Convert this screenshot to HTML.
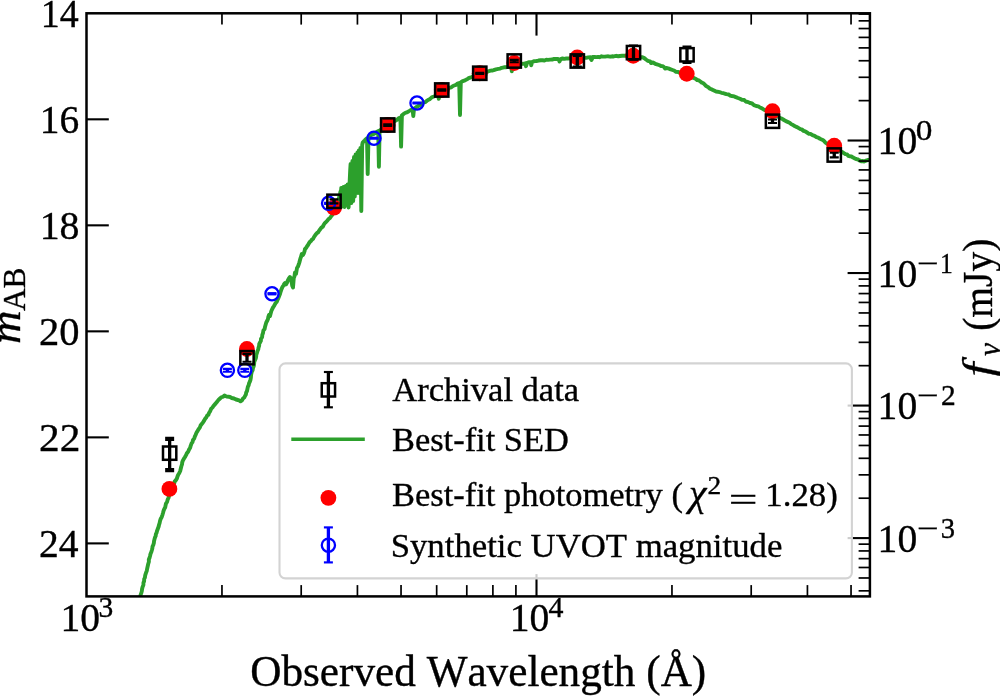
<!DOCTYPE html>
<html lang="en"><head><meta charset="utf-8"><title>SED fit</title>
<style>
html,body{margin:0;padding:0;background:#fff;}
body{width:1000px;height:696px;overflow:hidden;}
svg{display:block;}
text{font-family:"Liberation Serif", "DejaVu Serif", serif;fill:#000;stroke:#000;stroke-width:0.35px;font-kerning:none;white-space:pre;}
.it{font-style:italic;}
</style></head><body>
<svg width="1000" height="696" viewBox="0 0 1000 696">
<rect width="1000" height="696" fill="#fff"/>

<clipPath id="ax"><rect x="86.5" y="13.3" width="783.4" height="583.1"/></clipPath>
<g clip-path="url(#ax)">
<polyline points="140.30,597.00 140.69,594.69 141.44,592.62 141.88,590.88 142.06,589.01 142.56,586.94 143.40,585.00 143.46,582.69 144.07,581.41 144.22,578.93 144.93,577.64 145.20,575.30 145.89,573.11 146.80,570.69 147.10,569.00 148.20,564.00 148.88,561.78 148.82,559.59 149.50,557.90 149.97,556.21 150.48,554.02 151.40,551.86 151.90,550.00 152.40,547.94 152.53,546.40 153.30,545.00 153.85,543.03 154.02,541.28 154.54,539.12 155.00,537.40 155.71,535.98 155.82,534.27 156.52,532.94 157.00,531.00 157.83,528.74 158.67,526.52 159.00,524.80 159.59,523.06 160.04,520.85 160.61,519.04 161.76,516.98 162.48,514.78 162.99,513.06 163.50,511.00 164.26,509.04 165.14,507.57 165.58,505.40 165.99,503.51 167.10,501.86 167.70,499.50 168.60,497.56 168.97,496.15 169.39,494.22 170.40,492.50 170.95,490.26 171.65,488.94 172.48,486.57 173.44,485.23 174.30,483.00 174.78,481.38 175.88,480.20 176.85,478.60 177.40,476.70 178.18,474.72 179.17,473.25 180.20,471.00 181.30,466.50 182.07,464.19 182.20,462.50 182.91,460.43 183.88,458.82 185.00,457.00 186.16,454.92 186.85,453.19 188.30,451.40 188.99,449.56 190.18,447.77 190.66,445.81 191.56,443.40 192.50,442.15 193.00,440.00 194.23,438.50 194.87,436.37 195.64,434.81 196.58,432.52 197.65,430.84 198.72,428.97 199.80,427.60 200.55,425.55 201.72,424.01 202.77,422.74 204.28,420.35 205.13,418.80 206.40,417.20 207.17,415.46 208.38,414.84 209.00,413.00 210.14,411.15 211.04,408.98 212.50,407.50 213.56,405.79 215.06,404.20 216.00,403.00 217.00,401.91 218.69,399.68 220.00,398.50 221.53,397.07 223.02,396.93 224.50,395.50 226.00,396.23 227.00,396.60 228.33,396.68 230.00,397.00 231.77,397.99 234.00,398.50 236.02,399.50 238.00,400.00 239.13,400.40 240.50,401.30 241.97,400.34 243.00,398.50 244.25,397.53 245.00,396.00 245.89,394.55 246.14,392.68 247.00,391.00 247.48,388.58 247.84,386.80 248.75,385.00 249.03,383.37 249.97,381.35 250.41,380.04 250.87,377.68 251.00,376.00 251.30,373.75 251.79,371.73 252.59,370.36 253.00,368.00 253.74,365.98 254.11,364.27 254.21,362.14 255.00,360.00 255.79,358.45 256.18,356.38 256.27,354.86 256.88,353.07 257.50,351.00 258.33,349.21 258.43,348.00 259.16,345.60 259.24,343.89 260.00,342.50 260.88,340.88 260.95,338.99 262.14,336.94 262.30,334.94 263.00,333.00 263.39,330.46 264.63,328.93 264.97,327.09 265.55,324.93 266.25,322.50 267.35,320.49 268.00,319.00 268.33,316.81 269.00,315.00 270.00,316.00 271.25,311.25 271.99,309.58 272.91,307.68 274.00,306.00 274.62,304.87 275.65,302.96 276.68,301.86 277.50,300.00 278.28,298.38 279.17,296.03 280.00,294.00 280.68,291.57 281.29,289.71 282.00,288.00 282.53,286.77 283.75,285.00 284.15,283.98 285.00,283.00 286.00,284.50 287.07,282.63 287.71,280.68 288.75,278.75 290.00,277.00 290.54,278.26 291.00,279.00 292.00,284.00 292.22,285.80 293.00,287.50 293.60,280.00 293.77,277.92 294.49,276.26 294.69,274.61 295.00,272.50 296.00,274.00 297.00,268.00 298.04,266.45 298.50,265.00 299.08,263.34 299.51,261.84 300.00,260.00 300.53,258.06 301.12,256.46 301.70,254.10 303.00,255.00 303.81,253.34 304.64,250.78 305.00,249.00 306.04,248.07 307.24,246.01 308.00,245.00 308.74,243.61 309.70,242.10 311.00,241.00 311.70,239.82 313.20,238.69 314.00,237.00 314.76,235.86 316.11,234.01 317.00,233.00 318.27,232.25 318.80,231.07 320.00,229.50 321.16,227.92 322.81,226.67 323.70,224.80 324.56,223.47 325.91,222.12 327.00,221.00 328.29,219.34 330.00,218.00 331.16,216.22 332.04,215.25 332.66,213.80 334.00,212.60 334.69,210.89 334.90,209.60 336.00,207.86 336.12,205.51 337.00,204.00 337.30,202.25 338.09,199.67 338.82,198.37 339.50,196.00 340.22,193.78 340.25,192.38 341.05,190.18 341.50,188.00 341.20,188.00 342.30,206.50 343.50,187.00 344.60,207.00 345.80,186.00 346.80,203.00 347.60,184.50 348.60,207.50 349.60,183.00 350.20,170.00 350.60,164.00 351.40,203.00 352.40,161.00 353.20,201.00 354.00,157.00 354.80,196.50 355.60,154.50 356.60,190.00 357.40,152.50 358.00,193.00 358.80,150.50 359.80,185.00 360.40,148.00 361.30,211.00 362.20,145.00 362.66,142.75 363.70,141.30 364.73,140.33 365.50,139.50 367.00,138.30 367.70,174.00 368.50,136.80 369.95,136.04 372.00,134.50 373.43,134.10 374.38,133.49 376.00,132.50 376.80,132.08 378.20,131.00 378.90,166.70 379.60,130.50 381.03,129.52 382.57,129.22 384.00,128.00 385.17,126.83 386.69,126.10 388.00,125.50 389.06,124.36 390.35,123.56 392.00,123.00 393.54,121.76 395.51,120.68 397.00,119.80 398.70,118.36 400.40,117.50 401.10,146.60 401.90,115.50 403.39,114.03 404.93,113.00 406.70,112.40 408.51,111.50 410.00,110.50 411.08,109.98 412.60,109.50 413.30,116.00 414.00,108.80 416.05,107.30 417.50,106.50 419.22,105.44 420.50,104.80 422.00,103.50 423.43,102.63 425.13,102.18 426.39,101.17 428.00,100.00 429.64,99.25 430.93,98.11 432.19,97.04 434.00,96.50 435.03,96.05 436.50,94.86 438.00,94.50 438.80,98.80 439.60,93.50 440.38,93.31 441.75,92.50 443.76,91.65 445.10,90.27 447.00,89.50 448.36,88.59 449.76,87.70 451.33,87.29 453.00,86.00 454.88,85.29 455.92,84.92 457.52,83.62 459.20,83.00 460.00,115.00 460.80,82.30 462.18,81.36 464.25,80.64 466.00,79.80 467.29,79.10 468.65,78.19 470.21,77.61 472.00,77.00 473.68,75.76 475.86,75.13 478.06,74.59 480.00,73.75 482.18,73.33 484.15,72.97 485.92,71.91 488.00,71.50 490.34,70.63 492.16,70.53 493.68,70.15 496.00,69.30 498.27,68.91 500.16,68.58 501.75,67.82 504.00,67.30 505.75,67.23 507.71,66.84 509.31,66.53 511.00,65.80 511.80,71.30 512.60,65.40 514.25,65.00 516.29,64.84 517.89,63.91 520.00,64.00 521.51,63.64 523.26,63.84 525.30,63.30 525.69,64.86 526.00,66.20 526.49,64.76 526.80,63.00 528.64,62.20 530.50,62.30 531.06,64.07 531.20,65.40 531.60,63.73 532.00,62.00 533.78,61.28 535.50,61.11 537.00,61.00 538.54,60.52 540.83,60.20 542.50,60.20 544.54,60.48 546.25,59.79 548.11,59.92 550.00,59.60 552.19,59.56 554.10,58.92 555.75,58.93 558.00,59.00 558.92,60.07 559.50,61.50 560.30,59.71 561.00,58.80 562.44,58.52 564.62,58.82 566.37,58.39 568.00,58.50 569.86,58.37 571.68,57.96 573.83,57.93 575.73,58.49 577.25,58.00 578.60,57.86 580.85,58.22 582.28,57.49 584.00,57.60 585.96,57.87 588.13,57.41 590.50,57.20 590.75,58.62 591.50,60.00 592.32,58.17 592.50,57.00 594.56,56.97 596.44,57.12 598.00,56.90 599.56,57.18 601.49,56.32 602.90,56.67 605.00,56.60 606.72,56.35 608.25,56.31 610.12,56.68 612.00,56.30 613.65,56.45 616.24,55.81 618.30,56.27 620.00,56.00 622.28,55.71 623.91,55.70 626.00,55.70 628.16,55.73 629.53,55.54 631.28,55.14 633.25,55.50 634.85,56.05 637.00,56.00 638.35,57.04 640.00,57.30 641.07,57.09 642.50,57.30 644.26,58.12 646.00,59.50 647.91,60.81 650.00,61.30 651.00,63.00 653.00,62.50 654.77,63.45 656.09,64.21 657.50,64.50 659.56,65.29 661.00,66.00 662.65,66.09 664.00,67.00 665.00,68.50 667.00,68.00 669.00,68.62 670.84,69.46 672.50,70.00 674.10,70.49 676.00,71.80 678.30,72.06 680.00,73.00 681.67,73.48 683.23,74.47 685.40,74.66 686.75,75.50 688.61,75.99 690.29,76.74 692.00,77.50 693.77,77.95 696.00,79.00 697.13,80.12 698.66,80.25 700.00,81.25 701.78,82.57 703.00,83.00 704.46,84.18 706.00,86.00 707.12,86.55 708.56,87.47 710.00,88.75 711.82,89.41 714.00,90.50 716.05,91.50 718.00,91.80 719.92,92.21 721.44,92.80 723.16,93.12 725.00,93.75 726.44,94.11 728.83,94.54 730.25,95.55 732.00,96.00 734.25,96.43 735.84,97.15 737.93,98.01 740.00,98.75 742.32,99.91 744.26,100.02 745.67,101.49 748.28,102.13 750.00,103.00 752.06,103.45 753.92,105.18 756.23,106.02 758.33,106.37 760.00,107.50 761.51,108.08 763.59,109.45 765.67,110.38 767.25,111.31 768.90,112.01 770.39,113.11 772.50,113.75 774.23,115.17 776.44,115.66 777.99,116.65 780.26,118.10 781.81,118.57 784.00,120.00 785.85,121.12 787.59,121.83 789.57,122.68 791.19,124.13 793.49,125.34 795.00,126.25 796.98,127.12 798.24,127.81 800.47,129.11 801.72,129.39 803.57,130.87 805.23,131.39 807.00,132.50 808.97,133.78 810.52,133.87 812.46,135.11 814.56,135.80 816.49,137.18 818.15,137.59 820.00,138.75 822.11,139.67 823.79,140.70 825.15,142.27 826.98,143.53 828.90,143.94 830.49,145.24 832.58,146.81 834.25,147.50 835.55,148.30 837.15,149.73 838.65,149.80 840.14,151.00 842.00,152.00 843.88,153.20 845.36,154.15 847.10,154.40 848.18,155.79 850.00,156.25 851.67,156.52 853.12,157.52 854.41,158.16 856.00,159.00 857.52,159.30 859.35,160.37 861.25,161.25 862.94,161.04 864.00,161.50 866.00,160.60 867.70,160.04 868.75,160.00 870.50,160.60" fill="none" stroke="#2ca02c" stroke-width="3.9" stroke-linejoin="round" stroke-linecap="butt"/>
<circle cx="169.4" cy="488.9" r="7.9" fill="#ff0000"/>
<circle cx="246.9" cy="349" r="7.9" fill="#ff0000"/>
<circle cx="334" cy="207.7" r="7.9" fill="#ff0000"/>
<circle cx="387.7" cy="125" r="7.9" fill="#ff0000"/>
<circle cx="441.75" cy="90" r="7.9" fill="#ff0000"/>
<circle cx="479.75" cy="73.25" r="7.9" fill="#ff0000"/>
<circle cx="514.25" cy="63" r="7.9" fill="#ff0000"/>
<circle cx="577.25" cy="57.5" r="7.9" fill="#ff0000"/>
<circle cx="633.25" cy="55.75" r="7.9" fill="#ff0000"/>
<circle cx="686.75" cy="73.75" r="7.9" fill="#ff0000"/>
<circle cx="772.5" cy="111.25" r="7.9" fill="#ff0000"/>
<circle cx="834.25" cy="145.75" r="7.9" fill="#ff0000"/>
<g stroke="#0000ff" fill="none"><line x1="227.4" y1="368.85" x2="227.4" y2="371.75" stroke-width="3.3"/><line x1="222.9" y1="368.85" x2="231.9" y2="368.85" stroke-width="2.15"/><line x1="222.9" y1="371.75" x2="231.9" y2="371.75" stroke-width="2.15"/><circle cx="227.4" cy="370.3" r="6.6" stroke-width="2.3"/></g>
<g stroke="#0000ff" fill="none"><line x1="244.8" y1="368.85" x2="244.8" y2="371.75" stroke-width="3.3"/><line x1="240.3" y1="368.85" x2="249.3" y2="368.85" stroke-width="2.15"/><line x1="240.3" y1="371.75" x2="249.3" y2="371.75" stroke-width="2.15"/><circle cx="244.8" cy="370.3" r="6.6" stroke-width="2.3"/></g>
<g stroke="#0000ff" fill="none"><line x1="272" y1="293.15" x2="272" y2="294.35" stroke-width="3.3"/><line x1="267.5" y1="293.15" x2="276.5" y2="293.15" stroke-width="2.15"/><line x1="267.5" y1="294.35" x2="276.5" y2="294.35" stroke-width="2.15"/><circle cx="272" cy="293.75" r="6.6" stroke-width="2.3"/></g>
<g stroke="#0000ff" fill="none"><line x1="328.6" y1="202.70000000000002" x2="328.6" y2="203.9" stroke-width="3.3"/><line x1="324.1" y1="202.70000000000002" x2="333.1" y2="202.70000000000002" stroke-width="2.15"/><line x1="324.1" y1="203.9" x2="333.1" y2="203.9" stroke-width="2.15"/><circle cx="328.6" cy="203.3" r="6.6" stroke-width="2.3"/></g>
<g stroke="#0000ff" fill="none"><line x1="374" y1="137.7" x2="374" y2="138.7" stroke-width="3.3"/><line x1="369.5" y1="137.7" x2="378.5" y2="137.7" stroke-width="2.15"/><line x1="369.5" y1="138.7" x2="378.5" y2="138.7" stroke-width="2.15"/><circle cx="374" cy="138.2" r="6.6" stroke-width="2.3"/></g>
<g stroke="#0000ff" fill="none"><line x1="417" y1="102.6" x2="417" y2="103.4" stroke-width="3.3"/><line x1="412.5" y1="102.6" x2="421.5" y2="102.6" stroke-width="2.15"/><line x1="412.5" y1="103.4" x2="421.5" y2="103.4" stroke-width="2.15"/><circle cx="417" cy="103" r="6.6" stroke-width="2.3"/></g>
<g stroke="#000" fill="none"><line x1="169.65" y1="438.85" x2="169.65" y2="470.1" stroke-width="3.3"/><line x1="165.15" y1="438.85" x2="174.15" y2="438.85" stroke-width="4.2"/><line x1="165.15" y1="470.1" x2="174.15" y2="470.1" stroke-width="4.2"/><rect x="163.0" y="446.5" width="13.3" height="13.3" stroke-width="2.5"/></g>
<g stroke="#000" fill="none"><line x1="247" y1="353.9" x2="247" y2="361.7" stroke-width="3.3"/><line x1="242.5" y1="353.9" x2="251.5" y2="353.9" stroke-width="2.15"/><line x1="242.5" y1="361.7" x2="251.5" y2="361.7" stroke-width="2.15"/><rect x="240.35" y="351.05" width="13.3" height="13.3" stroke-width="2.5"/></g>
<g stroke="#000" fill="none"><line x1="334" y1="199.3" x2="334" y2="203.3" stroke-width="3.3"/><line x1="329.5" y1="199.3" x2="338.5" y2="199.3" stroke-width="2.15"/><line x1="329.5" y1="203.3" x2="338.5" y2="203.3" stroke-width="2.15"/><rect x="327.35" y="194.65" width="13.3" height="13.3" stroke-width="2.5"/></g>
<g stroke="#000" fill="none"><line x1="387.7" y1="124.2" x2="387.7" y2="125.8" stroke-width="3.3"/><line x1="383.2" y1="124.2" x2="392.2" y2="124.2" stroke-width="2.15"/><line x1="383.2" y1="125.8" x2="392.2" y2="125.8" stroke-width="2.15"/><rect x="381.05" y="118.35" width="13.3" height="13.3" stroke-width="2.5"/></g>
<g stroke="#000" fill="none"><line x1="441.75" y1="89.4" x2="441.75" y2="90.6" stroke-width="3.3"/><line x1="437.25" y1="89.4" x2="446.25" y2="89.4" stroke-width="2.15"/><line x1="437.25" y1="90.6" x2="446.25" y2="90.6" stroke-width="2.15"/><rect x="435.1" y="83.35" width="13.3" height="13.3" stroke-width="2.5"/></g>
<g stroke="#000" fill="none"><line x1="479.75" y1="72.7" x2="479.75" y2="73.8" stroke-width="3.3"/><line x1="475.25" y1="72.7" x2="484.25" y2="72.7" stroke-width="2.15"/><line x1="475.25" y1="73.8" x2="484.25" y2="73.8" stroke-width="2.15"/><rect x="473.1" y="66.6" width="13.3" height="13.3" stroke-width="2.5"/></g>
<g stroke="#000" fill="none"><line x1="514.25" y1="59.8" x2="514.25" y2="62.2" stroke-width="3.3"/><line x1="509.75" y1="59.8" x2="518.75" y2="59.8" stroke-width="2.15"/><line x1="509.75" y1="62.2" x2="518.75" y2="62.2" stroke-width="2.15"/><rect x="507.6" y="54.35" width="13.3" height="13.3" stroke-width="2.5"/></g>
<g stroke="#000" fill="none"><line x1="577.3" y1="55.9" x2="577.3" y2="66.6" stroke-width="3.3"/><line x1="572.8" y1="55.9" x2="581.8" y2="55.9" stroke-width="2.15"/><line x1="572.8" y1="66.6" x2="581.8" y2="66.6" stroke-width="2.15"/><rect x="570.65" y="54.35" width="13.3" height="13.3" stroke-width="2.5"/></g>
<g stroke="#000" fill="none"><line x1="633.5" y1="45.6" x2="633.5" y2="59.7" stroke-width="3.3"/><line x1="629.0" y1="45.6" x2="638.0" y2="45.6" stroke-width="2.15"/><line x1="629.0" y1="59.7" x2="638.0" y2="59.7" stroke-width="2.15"/><rect x="626.85" y="45.95" width="13.3" height="13.3" stroke-width="2.5"/></g>
<g stroke="#000" fill="none"><line x1="687" y1="46.6" x2="687" y2="63.0" stroke-width="3.3"/><line x1="682.5" y1="46.6" x2="691.5" y2="46.6" stroke-width="2.15"/><line x1="682.5" y1="63.0" x2="691.5" y2="63.0" stroke-width="2.15"/><rect x="680.35" y="48.15" width="13.3" height="13.3" stroke-width="2.5"/></g>
<g stroke="#000" fill="none"><line x1="772.5" y1="119.5" x2="772.5" y2="123" stroke-width="3.3"/><line x1="768.0" y1="119.5" x2="777.0" y2="119.5" stroke-width="2.15"/><line x1="768.0" y1="123" x2="777.0" y2="123" stroke-width="2.15"/><rect x="765.85" y="114.6" width="13.3" height="13.3" stroke-width="2.5"/></g>
<g stroke="#000" fill="none"><line x1="834.25" y1="152.7" x2="834.25" y2="157.3" stroke-width="3.3"/><line x1="829.75" y1="152.7" x2="838.75" y2="152.7" stroke-width="2.15"/><line x1="829.75" y1="157.3" x2="838.75" y2="157.3" stroke-width="2.15"/><rect x="827.6" y="148.35" width="13.3" height="13.3" stroke-width="2.5"/></g>
</g>
<g stroke="#000" fill="none"><line x1="86.5" y1="119.32" x2="108.8" y2="119.32" stroke-width="2.1"/><line x1="86.5" y1="225.34" x2="108.8" y2="225.34" stroke-width="2.1"/><line x1="86.5" y1="331.35" x2="108.8" y2="331.35" stroke-width="2.1"/><line x1="86.5" y1="437.37" x2="108.8" y2="437.37" stroke-width="2.1"/><line x1="86.5" y1="543.39" x2="108.8" y2="543.39" stroke-width="2.1"/><line x1="221.96" y1="596.4" x2="221.96" y2="585.1" stroke-width="1.7"/><line x1="221.96" y1="13.3" x2="221.96" y2="24.6" stroke-width="1.7"/><line x1="301.20" y1="596.4" x2="301.20" y2="585.1" stroke-width="1.7"/><line x1="301.20" y1="13.3" x2="301.20" y2="24.6" stroke-width="1.7"/><line x1="357.43" y1="596.4" x2="357.43" y2="585.1" stroke-width="1.7"/><line x1="357.43" y1="13.3" x2="357.43" y2="24.6" stroke-width="1.7"/><line x1="401.04" y1="596.4" x2="401.04" y2="585.1" stroke-width="1.7"/><line x1="401.04" y1="13.3" x2="401.04" y2="24.6" stroke-width="1.7"/><line x1="436.67" y1="596.4" x2="436.67" y2="585.1" stroke-width="1.7"/><line x1="436.67" y1="13.3" x2="436.67" y2="24.6" stroke-width="1.7"/><line x1="466.79" y1="596.4" x2="466.79" y2="585.1" stroke-width="1.7"/><line x1="466.79" y1="13.3" x2="466.79" y2="24.6" stroke-width="1.7"/><line x1="492.89" y1="596.4" x2="492.89" y2="585.1" stroke-width="1.7"/><line x1="492.89" y1="13.3" x2="492.89" y2="24.6" stroke-width="1.7"/><line x1="515.91" y1="596.4" x2="515.91" y2="585.1" stroke-width="1.7"/><line x1="515.91" y1="13.3" x2="515.91" y2="24.6" stroke-width="1.7"/><line x1="536.50" y1="596.4" x2="536.50" y2="574.1" stroke-width="2.1"/><line x1="536.50" y1="13.3" x2="536.50" y2="35.6" stroke-width="2.1"/><line x1="671.96" y1="596.4" x2="671.96" y2="585.1" stroke-width="1.7"/><line x1="671.96" y1="13.3" x2="671.96" y2="24.6" stroke-width="1.7"/><line x1="751.20" y1="596.4" x2="751.20" y2="585.1" stroke-width="1.7"/><line x1="751.20" y1="13.3" x2="751.20" y2="24.6" stroke-width="1.7"/><line x1="807.43" y1="596.4" x2="807.43" y2="585.1" stroke-width="1.7"/><line x1="807.43" y1="13.3" x2="807.43" y2="24.6" stroke-width="1.7"/><line x1="851.04" y1="596.4" x2="851.04" y2="585.1" stroke-width="1.7"/><line x1="851.04" y1="13.3" x2="851.04" y2="24.6" stroke-width="1.7"/><line x1="869.9" y1="590.83" x2="858.6" y2="590.83" stroke-width="1.7"/><line x1="869.9" y1="577.98" x2="858.6" y2="577.98" stroke-width="1.7"/><line x1="869.9" y1="567.49" x2="858.6" y2="567.49" stroke-width="1.7"/><line x1="869.9" y1="558.62" x2="858.6" y2="558.62" stroke-width="1.7"/><line x1="869.9" y1="550.93" x2="858.6" y2="550.93" stroke-width="1.7"/><line x1="869.9" y1="544.15" x2="858.6" y2="544.15" stroke-width="1.7"/><line x1="869.9" y1="538.09" x2="847.6" y2="538.09" stroke-width="2.1"/><line x1="869.9" y1="498.20" x2="858.6" y2="498.20" stroke-width="1.7"/><line x1="869.9" y1="474.86" x2="858.6" y2="474.86" stroke-width="1.7"/><line x1="869.9" y1="458.30" x2="858.6" y2="458.30" stroke-width="1.7"/><line x1="869.9" y1="445.46" x2="858.6" y2="445.46" stroke-width="1.7"/><line x1="869.9" y1="434.97" x2="858.6" y2="434.97" stroke-width="1.7"/><line x1="869.9" y1="426.10" x2="858.6" y2="426.10" stroke-width="1.7"/><line x1="869.9" y1="418.41" x2="858.6" y2="418.41" stroke-width="1.7"/><line x1="869.9" y1="411.63" x2="858.6" y2="411.63" stroke-width="1.7"/><line x1="869.9" y1="405.57" x2="847.6" y2="405.57" stroke-width="2.1"/><line x1="869.9" y1="365.67" x2="858.6" y2="365.67" stroke-width="1.7"/><line x1="869.9" y1="342.34" x2="858.6" y2="342.34" stroke-width="1.7"/><line x1="869.9" y1="325.78" x2="858.6" y2="325.78" stroke-width="1.7"/><line x1="869.9" y1="312.94" x2="858.6" y2="312.94" stroke-width="1.7"/><line x1="869.9" y1="302.44" x2="858.6" y2="302.44" stroke-width="1.7"/><line x1="869.9" y1="293.57" x2="858.6" y2="293.57" stroke-width="1.7"/><line x1="869.9" y1="285.89" x2="858.6" y2="285.89" stroke-width="1.7"/><line x1="869.9" y1="279.11" x2="858.6" y2="279.11" stroke-width="1.7"/><line x1="869.9" y1="273.04" x2="847.6" y2="273.04" stroke-width="2.1"/><line x1="869.9" y1="233.15" x2="858.6" y2="233.15" stroke-width="1.7"/><line x1="869.9" y1="209.82" x2="858.6" y2="209.82" stroke-width="1.7"/><line x1="869.9" y1="193.26" x2="858.6" y2="193.26" stroke-width="1.7"/><line x1="869.9" y1="180.42" x2="858.6" y2="180.42" stroke-width="1.7"/><line x1="869.9" y1="169.92" x2="858.6" y2="169.92" stroke-width="1.7"/><line x1="869.9" y1="161.05" x2="858.6" y2="161.05" stroke-width="1.7"/><line x1="869.9" y1="153.36" x2="858.6" y2="153.36" stroke-width="1.7"/><line x1="869.9" y1="146.59" x2="858.6" y2="146.59" stroke-width="1.7"/><line x1="869.9" y1="140.52" x2="847.6" y2="140.52" stroke-width="2.1"/><line x1="869.9" y1="100.63" x2="858.6" y2="100.63" stroke-width="1.7"/><line x1="869.9" y1="77.29" x2="858.6" y2="77.29" stroke-width="1.7"/><line x1="869.9" y1="60.74" x2="858.6" y2="60.74" stroke-width="1.7"/><line x1="869.9" y1="47.89" x2="858.6" y2="47.89" stroke-width="1.7"/><line x1="869.9" y1="37.40" x2="858.6" y2="37.40" stroke-width="1.7"/><line x1="869.9" y1="28.53" x2="858.6" y2="28.53" stroke-width="1.7"/><line x1="869.9" y1="20.84" x2="858.6" y2="20.84" stroke-width="1.7"/><line x1="869.9" y1="14.06" x2="858.6" y2="14.06" stroke-width="1.7"/></g>
<rect x="86.5" y="13.3" width="783.4" height="583.1" fill="none" stroke="#000" stroke-width="2.5"/>
<text transform="translate(40.67,27.00) scale(0.9250,1.0000)" font-size="41.0">14</text>
<text transform="translate(39.73,133.02) scale(0.9620,1.0000)" font-size="41.0">16</text>
<text transform="translate(39.70,239.04) scale(0.9711,1.0000)" font-size="41.0">18</text>
<text transform="translate(39.02,345.05) scale(0.9884,1.0000)" font-size="41.0">20</text>
<text transform="translate(38.99,451.07) scale(1.0071,1.0000)" font-size="41.0">22</text>
<text transform="translate(39.06,557.09) scale(0.9648,1.0000)" font-size="41.0">24</text>
<text transform="translate(60.52,631.10) scale(0.9655,1.0000)" font-size="41.0">10</text>
<text transform="translate(98.49,617.10) scale(1.0184,1.0000)" font-size="29.0">3</text>
<text transform="translate(509.72,631.10) scale(0.9655,1.0000)" font-size="41.0">10</text>
<text transform="translate(548.52,617.10) scale(1.0311,1.0000)" font-size="29.0">4</text>
<text transform="translate(877.62,154.32) scale(0.9655,1.0000)" font-size="41.0">10</text>
<text transform="translate(915.73,140.32) scale(1.1472,1.0000)" font-size="29.0">0</text>
<text transform="translate(877.62,286.84) scale(0.9655,1.0000)" font-size="41.0">10</text>
<text transform="translate(916.99,272.84) scale(1.3190,1.0000)" font-size="29.0">−</text>
<text transform="translate(939.95,272.84) scale(0.8815,1.0000)" font-size="29.0">1</text>
<text transform="translate(877.62,419.37) scale(0.9655,1.0000)" font-size="41.0">10</text>
<text transform="translate(916.99,405.37) scale(1.3190,1.0000)" font-size="29.0">−</text>
<text transform="translate(940.91,405.37) scale(1.0150,1.0000)" font-size="29.0">2</text>
<text transform="translate(877.62,551.89) scale(0.9655,1.0000)" font-size="41.0">10</text>
<text transform="translate(916.99,537.89) scale(1.3190,1.0000)" font-size="29.0">−</text>
<text transform="translate(940.83,537.89) scale(0.9850,1.0000)" font-size="29.0">3</text>
<text transform="translate(250.23,686.00) scale(0.9914,1.0000)" font-size="43.6">Observed Wavelength (Å)</text>
<text class="it" transform="translate(19.70,344.08) rotate(-90) scale(1.0684,1.0000)" font-size="43.6">m</text>
<text transform="translate(25.30,311.11) rotate(-90) scale(1.0300,1.0000)" font-size="30.5">AB</text>
<text class="it" transform="translate(991.60,376.56) rotate(-90) scale(1.1633,1.0000)" font-size="43.0">f</text>
<text class="it" transform="translate(1000.30,356.10) rotate(-90) scale(0.9680,1.0000)" font-size="30.5">ν</text>
<text transform="translate(991.60,330.84) rotate(-90) scale(0.9407,1.0000)" font-size="42.0">(mJy)</text>
<rect x="279.5" y="363.4" width="572.4" height="215.0" rx="6" ry="6" fill="#fff" fill-opacity="0.8" stroke="#d3d3d3" stroke-width="2.1"/>
<g stroke="#000" fill="none"><line x1="328.4" y1="372.0" x2="328.4" y2="407.3" stroke-width="3.3"/><line x1="323.9" y1="372.0" x2="332.9" y2="372.0" stroke-width="2.15"/><line x1="323.9" y1="407.3" x2="332.9" y2="407.3" stroke-width="2.15"/><rect x="321.75" y="383.20000000000005" width="13.3" height="13.3" stroke-width="2.5"/></g>
<line x1="291.3" y1="439.35" x2="364.8" y2="439.35" stroke="#2ca02c" stroke-width="3.5"/>
<circle cx="328.4" cy="497.8" r="7.9" fill="#ff0000"/>
<g stroke="#0000ff" fill="none"><line x1="328.4" y1="527.4" x2="328.4" y2="562.4" stroke-width="3.3"/><line x1="323.9" y1="527.4" x2="332.9" y2="527.4" stroke-width="2.15"/><line x1="323.9" y1="562.4" x2="332.9" y2="562.4" stroke-width="2.15"/><circle cx="328.4" cy="545.2" r="6.6" stroke-width="2.3"/></g>
<text transform="translate(392.26,401.30) scale(0.9978,1.0000)" font-size="34.6">Archival data</text>
<text transform="translate(392.01,451.30) scale(0.9948,1.0000)" font-size="34.6">Best-fit SED</text>
<text transform="translate(392.01,506.20) scale(0.9965,1.0000)" font-size="34.6">Best-fit photometry (</text>
<text class="it" transform="translate(688.97,506.20) scale(1.0419,1.0000)" font-size="38.0">χ</text>
<text transform="translate(707.39,494.20) scale(1.0976,1.0000)" font-size="25.0">2</text>
<text transform="translate(728.65,510.90) scale(1.4782,1.0000)" font-size="34.6">=</text>
<text transform="translate(765.34,506.40) scale(1.0058,1.0000)" font-size="34.6">1.28)</text>
<text transform="translate(390.68,557.00) scale(1.0043,1.0000)" font-size="34.6">Synthetic UVOT magnitude</text>
</svg></body></html>
